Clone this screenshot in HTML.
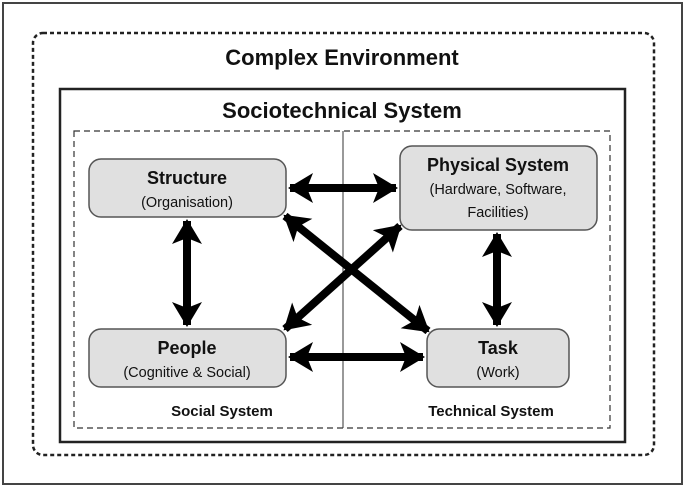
<!DOCTYPE html>
<html><head><meta charset="utf-8"><style>
html,body{margin:0;padding:0;background:#fff;}
svg{display:block;font-family:"Liberation Sans",sans-serif;}
</style></head><body>
<svg width="685" height="488" viewBox="0 0 685 488" xmlns="http://www.w3.org/2000/svg">
<defs>
<marker id="h" markerUnits="userSpaceOnUse" markerWidth="28" markerHeight="30" refX="23" refY="15" orient="auto-start-reverse">
<path d="M0,0 L25,15 L0,30 L6,15 Z" fill="#000"/>
</marker>
</defs>
<rect x="3" y="3" width="679" height="481" fill="#fff" stroke="#444" stroke-width="2"/>
<rect x="33" y="33" width="621" height="422" rx="10" fill="none" stroke="#222" stroke-width="2.5" stroke-dasharray="4,3"/>
<text x="342" y="65" text-anchor="middle" font-size="22" font-weight="bold" fill="#111">Complex Environment</text>
<rect x="60" y="89" width="565" height="353" fill="none" stroke="#222" stroke-width="2.5"/>
<text x="342" y="118" text-anchor="middle" font-size="22" font-weight="bold" fill="#111">Sociotechnical System</text>
<rect x="74" y="131" width="536" height="297" fill="none" stroke="#333" stroke-width="1.2" stroke-dasharray="6,4"/>
<line x1="343" y1="131" x2="343" y2="428" stroke="#333" stroke-width="1"/>
<g stroke="#000" stroke-width="8" marker-start="url(#h)" marker-end="url(#h)">
<line x1="290" y1="188" x2="396" y2="188"/>
<line x1="290" y1="357" x2="423" y2="357"/>
<line x1="187" y1="221" x2="187" y2="325"/>
<line x1="497" y1="234" x2="497" y2="325"/>
<line x1="285" y1="216" x2="428" y2="331"/>
<line x1="400" y1="226" x2="285" y2="329"/>
</g>
<g fill="#e0e0e0" stroke="#555" stroke-width="1.5">
<rect x="89" y="159" width="197" height="58" rx="12"/>
<rect x="400" y="146" width="197" height="84" rx="12"/>
<rect x="89" y="329" width="197" height="58" rx="12"/>
<rect x="427" y="329" width="142" height="58" rx="12"/>
</g>
<g text-anchor="middle" fill="#111">
<text x="187" y="184" font-size="18" font-weight="bold">Structure</text>
<text x="187" y="207" font-size="14.5">(Organisation)</text>
<text x="498" y="171" font-size="18" font-weight="bold">Physical System</text>
<text x="498" y="194" font-size="14.5">(Hardware, Software,</text>
<text x="498" y="217" font-size="14.5">Facilities)</text>
<text x="187" y="354" font-size="18" font-weight="bold">People</text>
<text x="187" y="377" font-size="14.5">(Cognitive &amp; Social)</text>
<text x="498" y="354" font-size="18" font-weight="bold">Task</text>
<text x="498" y="377" font-size="14.5">(Work)</text>
<text x="222" y="416" font-size="15" font-weight="bold">Social System</text>
<text x="491" y="416" font-size="15" font-weight="bold">Technical System</text>
</g>
</svg>
</body></html>
